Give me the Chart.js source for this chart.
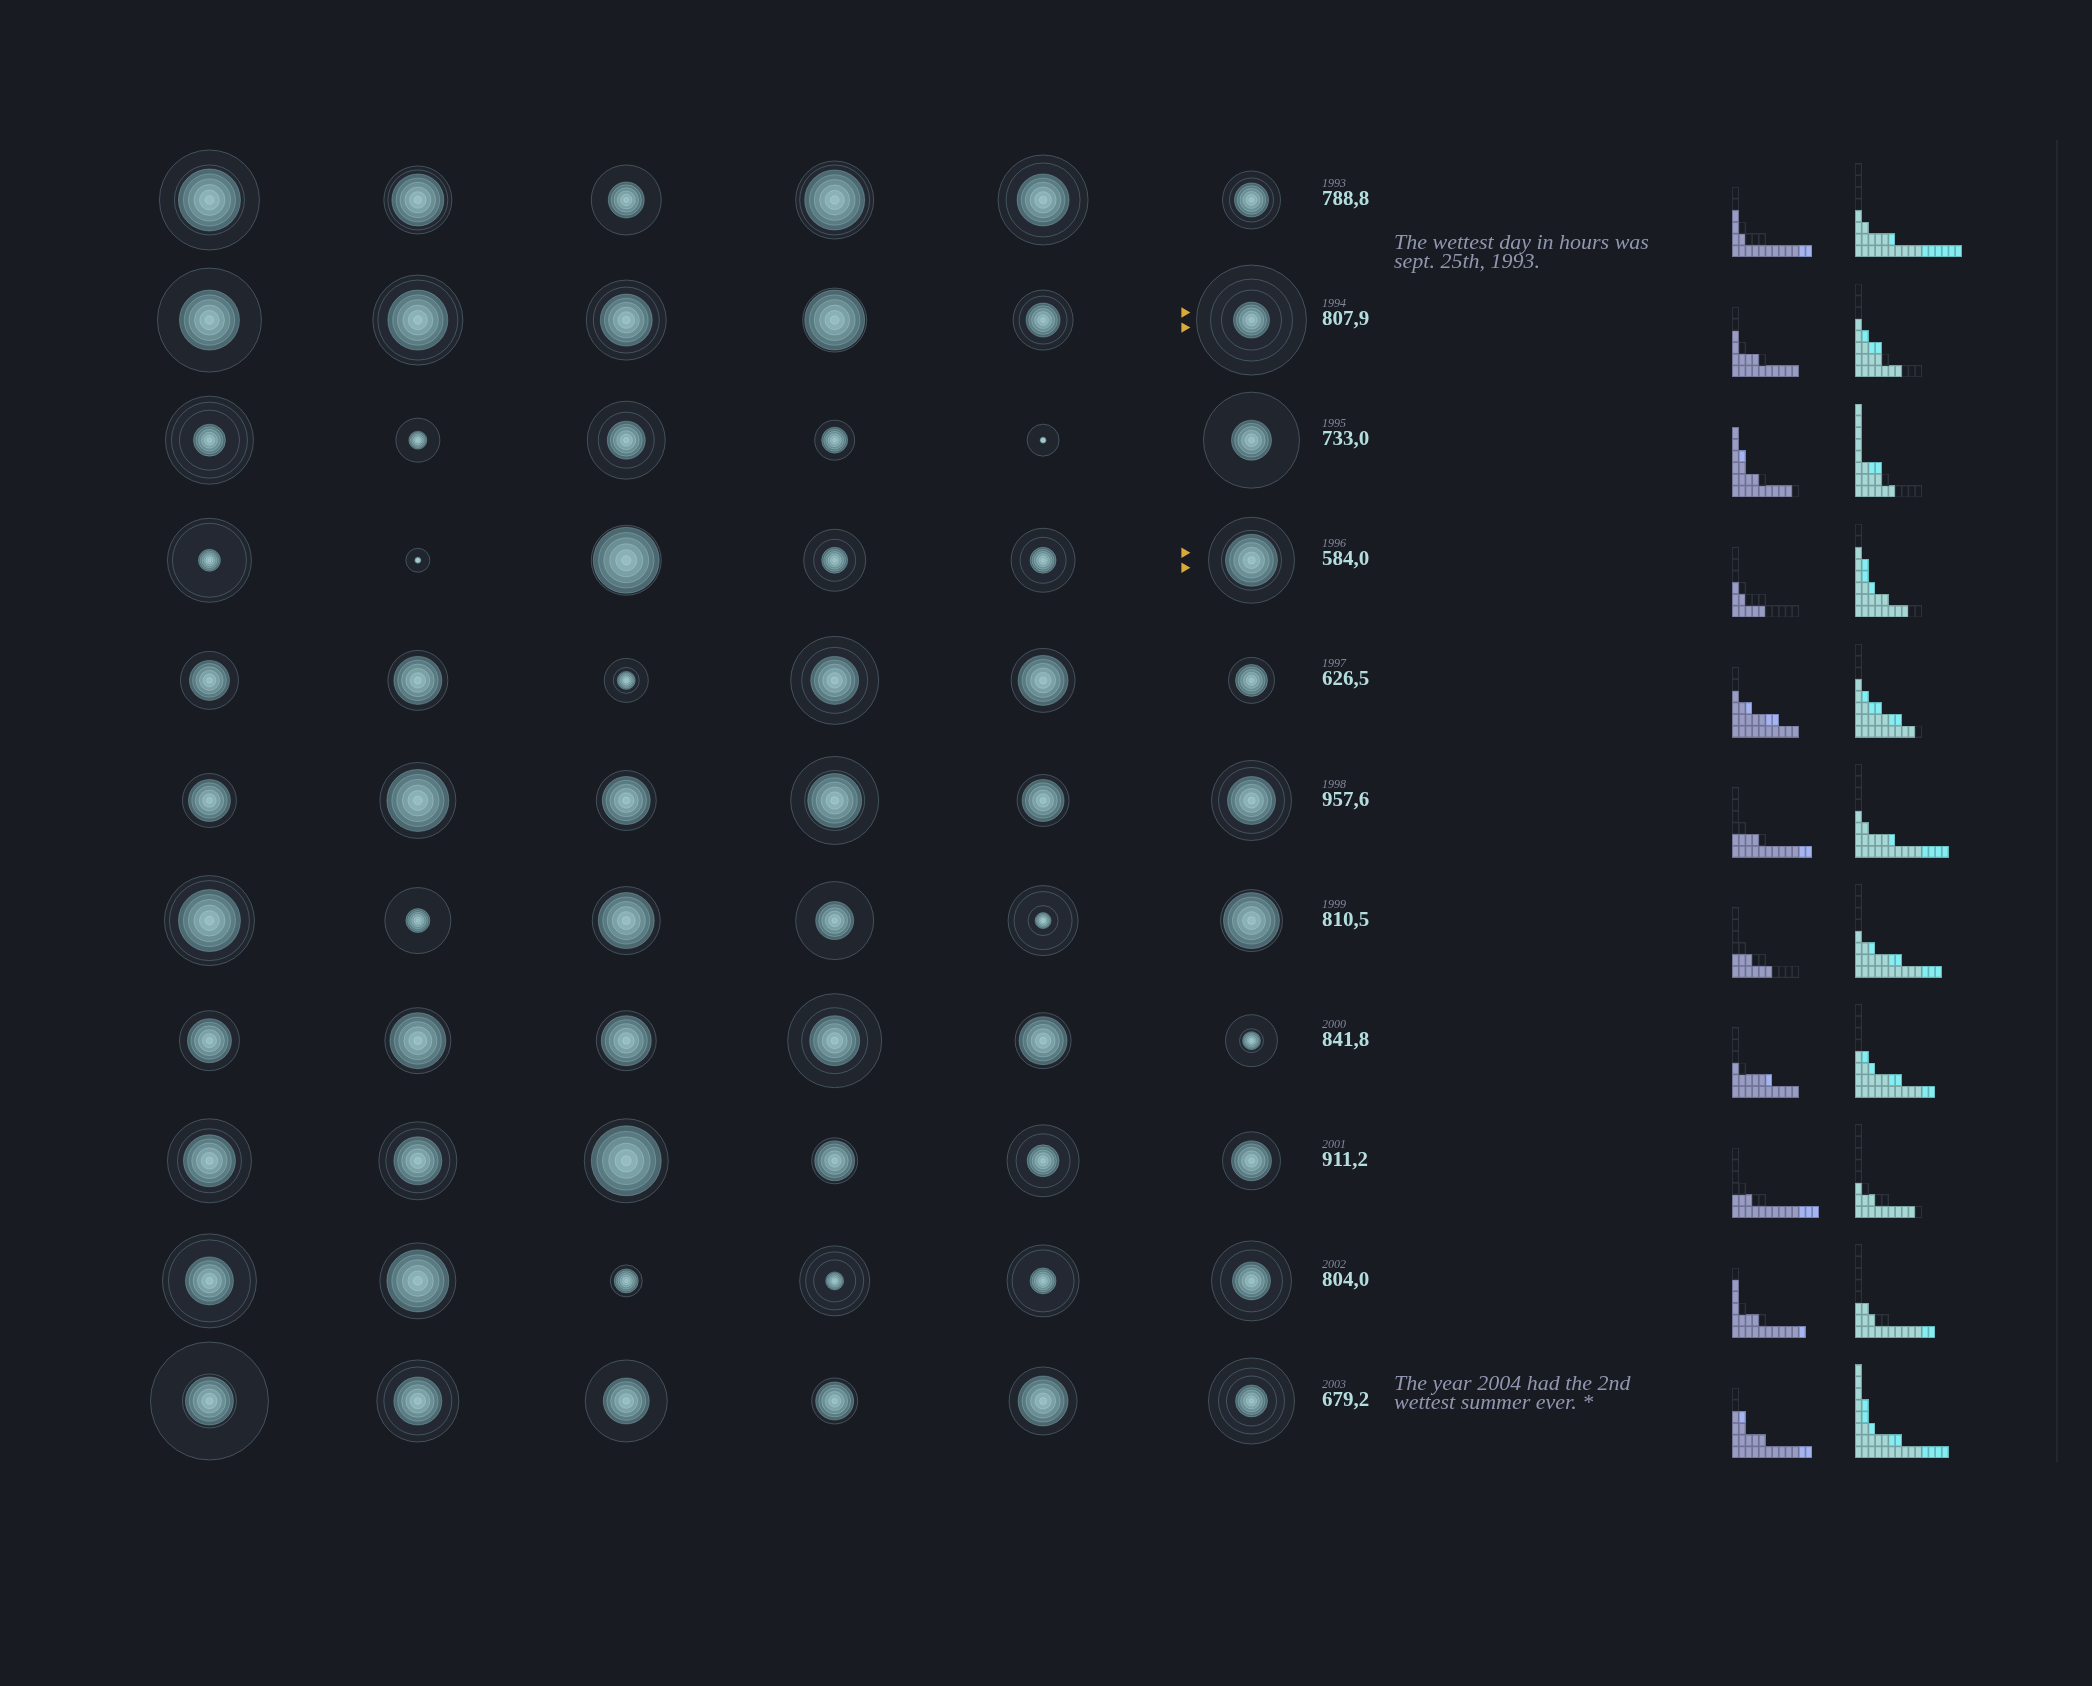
<!DOCTYPE html>
<html lang="en">
<head>
    <meta charset="UTF-8">
    <title>Rain rings</title>
    <script src="https://cdn.jsdelivr.net/npm/chart.js"></script>
    <style>
        html, body { margin: 0; padding: 0; background: #181b21; }
        canvas { display: block; }
    </style>
</head>
<body>
<canvas id="chart" width="2092" height="1686"></canvas>
<script>
    // one row per year, one column per ring-group
    const years = [1993, 1994, 1995, 1996, 1997, 1998, 1999, 2000, 2001, 2002, 2003];
    const totals = [788.8, 807.9, 733.0, 584.0, 626.5, 957.6, 810.5, 841.8, 911.2, 804.0, 679.2];

    const outerR = [
        [50, 34, 35, 39, 45, 29],
        [52, 45, 40, 32, 30, 55],
        [44, 22, 39, 20, 16, 48],
        [42, 12, 35, 31, 32, 43],
        [29, 30, 22, 44, 32, 23],
        [27, 38, 30, 44, 26, 40],
        [45, 33, 34, 39, 35, 31],
        [30, 33, 30, 47, 28, 26],
        [42, 39, 42, 23, 36, 29],
        [47, 38, 16, 35, 36, 40],
        [59, 41, 41, 23, 34, 43]
    ];
    const ringR = [
        [35, 30, 0, 35, 37, 22],
        [0, 40, 33, 0, 24, 41],
        [38, 0, 28, 0, 0, 0],
        [37, 0, 0, 21, 23, 30],
        [0, 0, 13, 33, 0, 0],
        [0, 0, 0, 30, 0, 33],
        [40, 0, 0, 0, 29, 0],
        [0, 0, 0, 33, 0, 12],
        [32, 32, 0, 0, 27, 0],
        [41, 0, 0, 29, 31, 31],
        [27, 34, 0, 0, 0, 33]
    ];
    const ring2R = [
        [0, 0, 0, 0, 0, 0],
        [0, 0, 0, 0, 0, 30],
        [30, 0, 0, 0, 0, 0],
        [0, 0, 0, 0, 0, 0],
        [0, 0, 0, 0, 0, 0],
        [0, 0, 0, 0, 0, 0],
        [0, 0, 0, 0, 15, 0],
        [0, 0, 0, 0, 0, 0],
        [0, 0, 0, 0, 0, 0],
        [0, 0, 0, 21, 0, 0],
        [0, 0, 0, 0, 0, 25]
    ];
    const glowR = [
        [31, 26, 18, 30, 26, 17],
        [30, 30, 26, 30, 17, 18],
        [16, 9, 19, 13, 3, 20],
        [11, 3, 33, 13, 13, 26],
        [20, 24, 9, 24, 25, 16],
        [21, 31, 24, 27, 21, 24],
        [31, 12, 28, 19, 8, 28],
        [22, 28, 25, 25, 24, 9],
        [26, 24, 35, 20, 16, 20],
        [24, 31, 12, 9, 13, 19],
        [24, 24, 23, 19, 25, 16]
    ];

    // little histograms: filled cells per column, bottom up
    const purpleCounts = [
        [4, 2, 1, 1, 1, 1, 1, 1, 1, 1, 1, 1],
        [4, 2, 2, 2, 1, 1, 1, 1, 1, 1],
        [6, 4, 2, 2, 1, 1, 1, 1, 1],
        [3, 2, 1, 1, 1],
        [4, 3, 3, 2, 2, 2, 2, 1, 1, 1],
        [2, 2, 2, 2, 1, 1, 1, 1, 1, 1, 1, 1],
        [2, 2, 2, 1, 1, 1],
        [3, 2, 2, 2, 2, 2, 1, 1, 1, 1],
        [2, 2, 2, 1, 1, 1, 1, 1, 1, 1, 1, 1, 1],
        [5, 2, 2, 2, 1, 1, 1, 1, 1, 1, 1],
        [4, 4, 2, 2, 2, 1, 1, 1, 1, 1, 1, 1]
    ];
    const cyanCounts = [
        [4, 3, 2, 2, 2, 2, 1, 1, 1, 1, 1, 1, 1, 1, 1, 1],
        [5, 4, 3, 3, 1, 1, 1],
        [8, 3, 3, 3, 1, 1],
        [6, 5, 3, 2, 2, 1, 1, 1],
        [5, 4, 3, 3, 2, 2, 2, 1, 1],
        [4, 3, 2, 2, 2, 2, 1, 1, 1, 1, 1, 1, 1, 1],
        [4, 3, 3, 2, 2, 2, 2, 1, 1, 1, 1, 1, 1],
        [4, 4, 3, 2, 2, 2, 2, 1, 1, 1, 1, 1],
        [3, 2, 2, 1, 1, 1, 1, 1, 1],
        [3, 3, 2, 1, 1, 1, 1, 1, 1, 1, 1, 1],
        [8, 5, 3, 2, 2, 2, 2, 1, 1, 1, 1, 1, 1, 1]
    ];
    // the usual shape, drawn as empty outlines; cells above it are highlighted
    const purpleUsual = [6, 3, 2, 2, 2, 1, 1, 1, 1, 1];
    const cyanUsual = [8, 3, 2, 2, 2, 1, 1, 1, 1, 1];

    const markedYears = [1994, 1996];
    const notes = [
        {year: 1993, lines: ['The wettest day in hours was', 'sept. 25th, 1993.']},
        {year: 2003, lines: ['The year 2004 had the 2nd', 'wettest summer ever. *']}
    ];

    // layout, in grid units (1 x = one ring column, 1 y = one year row)
    const view = {xMin: -1.005, xMax: 9.033, yMin: -1.665, yMax: 12.373};
    const LABEL_X = 5.338;
    const NOTE_X = 5.684;
    const MARK_X = 4.678;
    const HIST_X = [7.306, 7.896];
    const CELL_W = 0.032, CELL_H = 0.0972, HIST_BASE = 0.4746;
    const FRAME_X = 8.865;

    function bubbles(radii) {
        const pts = [];
        radii.forEach((row, y) => row.forEach((r, x) => {
            if (r > 0) pts.push({x: x, y: y, r: r});
        }));
        return pts;
    }

    function scaled(radii, f) {
        return radii.map(row => row.map(r => Math.max(r * f, r > 0 ? 1.5 : 0)));
    }

    function cellImage(fill, stroke) {
        const c = document.createElement('canvas');
        c.width = 7;
        c.height = 12;
        const g = c.getContext('2d');
        if (fill) {
            g.fillStyle = fill;
            g.fillRect(0, 0, 7, 12);
        }
        g.strokeStyle = stroke;
        g.lineWidth = 1;
        g.strokeRect(0.5, 0.5, 6, 11);
        return c;
    }

    function histCells(counts, usual, left) {
        const out = {normal: [], hi: [], ghost: []};
        counts.forEach((cols, yi) => {
            const n = Math.max(cols.length, usual.length);
            for (let col = 0; col < n; col++) {
                const filled = cols[col] || 0;
                const u = usual[col] || 0;
                for (let k = 0; k < Math.max(filled, u); k++) {
                    const p = {
                        x: left + (col + 0.5) * CELL_W,
                        y: yi + HIST_BASE - (k + 0.5) * CELL_H
                    };
                    if (k >= filled) out.ghost.push(p);
                    else if (k >= u) out.hi.push(p);
                    else out.normal.push(p);
                }
            }
        });
        return out;
    }

    const purple = histCells(purpleCounts, purpleUsual, HIST_X[0]);
    const cyan = histCells(cyanCounts, cyanUsual, HIST_X[1]);

    const marks = [];
    markedYears.forEach(y => {
        const row = years.indexOf(y);
        marks.push({x: MARK_X, y: row - 0.0625}, {x: MARK_X, y: row + 0.0625});
    });

    const datasets = [
        {
            data: bubbles(outerR), order: 20,
            backgroundColor: 'rgba(44,52,63,0.45)', borderColor: 'rgba(98,122,134,0.55)', borderWidth: 1
        },
        {
            data: bubbles(ringR), order: 19,
            backgroundColor: 'rgba(44,52,63,0.25)', borderColor: 'rgba(100,130,140,0.5)', borderWidth: 1
        },
        {
            data: bubbles(ring2R), order: 18,
            backgroundColor: 'rgba(0,0,0,0)', borderColor: 'rgba(110,140,150,0.45)', borderWidth: 1
        }
    ];
    const glowSteps = [
        {f: 1, fill: 'rgba(120,170,176,0.5)', line: 'rgba(150,200,205,0.35)'},
        {f: 0.84, fill: 'rgba(150,200,204,0.2)', line: 'rgba(170,215,218,0.3)'},
        {f: 0.68, fill: 'rgba(165,212,215,0.22)', line: 'rgba(180,222,224,0.3)'},
        {f: 0.5, fill: 'rgba(175,220,222,0.25)', line: 'rgba(190,228,230,0.3)'},
        {f: 0.32, fill: 'rgba(185,226,228,0.25)', line: 'rgba(195,232,234,0.3)'},
        {f: 0.14, fill: 'rgba(190,228,230,0.25)', line: 'rgba(200,235,236,0.3)'}
    ];
    glowSteps.forEach((s, i) => {
        datasets.push({
            data: bubbles(scaled(glowR, s.f)), order: 15 - i,
            backgroundColor: s.fill, borderColor: s.line, borderWidth: 1
        });
    });

    function cellSet(points, img) {
        return {type: 'scatter', data: points, pointStyle: img, pointRadius: 3, order: 2};
    }

    datasets.push(
        cellSet(purple.ghost, cellImage(null, '#2c313b')),
        cellSet(purple.normal, cellImage('#9a9dc3', 'rgba(60,62,88,0.45)')),
        cellSet(purple.hi, cellImage('#a6b5f2', 'rgba(60,70,110,0.45)')),
        cellSet(cyan.ghost, cellImage(null, '#2c313b')),
        cellSet(cyan.normal, cellImage('#a8d8d6', 'rgba(60,95,95,0.45)')),
        cellSet(cyan.hi, cellImage('#86eef2', 'rgba(50,110,115,0.45)')),
        {
            type: 'scatter', data: marks, pointStyle: 'triangle', rotation: 90,
            pointRadius: 6, backgroundColor: '#d9a93b', borderWidth: 0, order: 1
        }
    );

    const backdrop = {
        id: 'backdrop',
        beforeDraw(chart) {
            const ctx = chart.ctx;
            ctx.save();
            ctx.fillStyle = '#181b21';
            ctx.fillRect(0, 0, chart.width, chart.height);
            const x = chart.scales.x.getPixelForValue(FRAME_X);
            ctx.strokeStyle = '#23272e';
            ctx.lineWidth = 2;
            ctx.beginPath();
            ctx.moveTo(x, chart.scales.y.getPixelForValue(-0.5));
            ctx.lineTo(x, chart.scales.y.getPixelForValue(10.51));
            ctx.stroke();
            ctx.restore();
        }
    };

    const labels = {
        id: 'labels',
        afterDatasetsDraw(chart) {
            const ctx = chart.ctx, sx = chart.scales.x, sy = chart.scales.y;
            ctx.save();
            ctx.textAlign = 'left';
            ctx.textBaseline = 'alphabetic';
            years.forEach((yr, i) => {
                const x = sx.getPixelForValue(LABEL_X);
                ctx.font = 'italic 12px "Liberation Serif", serif';
                ctx.fillStyle = '#80859b';
                ctx.fillText(String(yr), x, sy.getPixelForValue(i - 0.108));
                ctx.font = 'bold 21px "Liberation Serif", serif';
                ctx.fillStyle = '#b4dede';
                ctx.fillText(totals[i].toFixed(1).replace('.', ','), x, sy.getPixelForValue(i + 0.042));
            });
            ctx.font = 'italic 22px "Liberation Serif", serif';
            ctx.fillStyle = '#9196b0';
            notes.forEach(n => {
                const row = years.indexOf(n.year);
                const top = n.year === years[0] ? row + 0.408 : row - 0.092;
                n.lines.forEach((t, k) => {
                    ctx.fillText(t, sx.getPixelForValue(NOTE_X), sy.getPixelForValue(top + k * 0.155));
                });
            });
            ctx.restore();
        }
    };

    new Chart(document.getElementById('chart'), {
        type: 'bubble',
        data: {datasets: datasets},
        options: {
            responsive: false,
            animation: false,
            events: [],
            layout: {padding: 0, autoPadding: false},
            plugins: {legend: {display: false}, tooltip: {enabled: false}},
            elements: {point: {hoverRadius: 0, hitRadius: 0}},
            scales: {
                x: {type: 'linear', display: false, min: view.xMin, max: view.xMax},
                y: {type: 'linear', display: false, min: view.yMin, max: view.yMax, reverse: true}
            }
        },
        plugins: [backdrop, labels]
    });
</script>
</body>
</html>
